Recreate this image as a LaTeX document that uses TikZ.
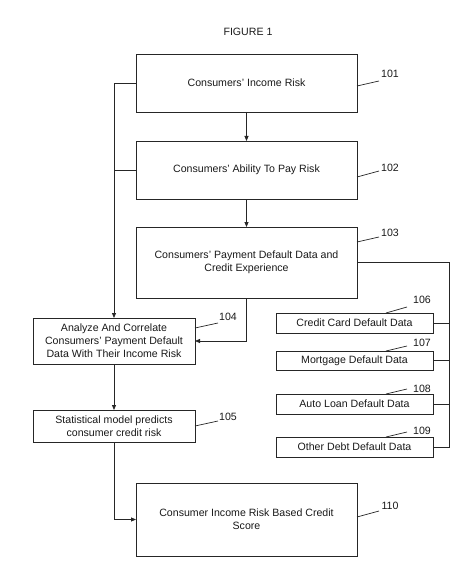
\documentclass[tikz,border=0pt]{standalone}
\usepackage{fontspec}
\setmainfont{Liberation Sans}
\usetikzlibrary{arrows.meta}
\begin{document}
\begin{tikzpicture}[x=1pt,y=-1pt,
  every node/.style={font=\fontsize{10.6}{12.8}\selectfont, text=black!90},
  box/.style={draw=black!85, line width=0.8pt, rectangle, inner sep=0pt, outer sep=0pt, align=center},
  conn/.style={draw=black!85, line width=0.8pt},
  arr/.style={conn, -{Triangle[length=5pt,width=4pt]}},
  lead/.style={draw=black!85, line width=0.7pt},
  lbl/.style={inner sep=0pt}]
\useasboundingbox (0,0) rectangle (474,585);
\node[lbl] (fig) at (248,32) {FIGURE 1};
\node[box, minimum width=221, minimum height=58] (b101) at (246.5,83) {Consumers’ Income Risk};
\node[box, minimum width=221, minimum height=58] (b102) at (246.5,170) {Consumers’ Ability To Pay Risk};
\node[box, minimum width=221, minimum height=71] (b103) at (246.5,262.5) {Consumers’ Payment Default Data and\\Credit Experience};
\node[box, minimum width=162, minimum height=46] (b104) at (114,341) {Analyze And Correlate\\Consumers’ Payment Default\\Data With Their Income Risk};
\node[box, minimum width=162, minimum height=32] (b105) at (114,426) {Statistical model predicts\\consumer credit risk};
\node[box, minimum width=221, minimum height=73] (b110) at (246.5,519.5) {Consumer Income Risk Based Credit\\Score};
\node[box, minimum width=157, minimum height=20] (b106) at (354.5,323) {Credit Card Default Data};
\node[box, minimum width=157, minimum height=19] (b107) at (354.5,360.5) {Mortgage Default Data};
\node[box, minimum width=157, minimum height=20] (b108) at (354.5,404) {Auto Loan Default Data};
\node[box, minimum width=157, minimum height=20] (b109) at (354.5,447) {Other Debt Default Data};

% connectors
\draw[arr] (b101.south) -- (b102.north);
\draw[arr] (b102.south) -- (b103.north);
\draw[arr] (b101.west) -- (b104.north |- b101.west) -- (b104.north);
\draw[conn] (b102.west) -- (b104.north |- b102.west);
\draw[arr] (b103.south) |- (b104.east);
\draw[arr] (b104.south) -- (b105.north);
\draw[arr] (b105.south) |- (b110.west);
\coordinate (busTop) at (449,262);
\draw[conn] (b103.east |- busTop) -- (busTop) -- (busTop |- b109.east) -- (b109.east);
\draw[conn] (b106.east) -- (busTop |- b106.east);
\draw[conn] (b107.east) -- (busTop |- b107.east);
\draw[conn] (b108.east) -- (busTop |- b108.east);

% reference labels
\node[lbl] (l101) at (390,74) {101};
\node[lbl] (l102) at (390,168) {102};
\node[lbl] (l103) at (390,233) {103};
\node[lbl] (l104) at (228,317) {104};
\node[lbl] (l105) at (228,417) {105};
\node[lbl] (l110) at (390,506) {110};
\node[lbl] (l106) at (422,300) {106};
\node[lbl] (l107) at (422,343) {107};
\node[lbl] (l108) at (422,389) {108};
\node[lbl] (l109) at (422,431) {109};
\coordinate (e101) at (379,81);
\coordinate (e102) at (379,171);
\coordinate (e103) at (379,237);
\coordinate (e104) at (218,323);
\coordinate (e105) at (218,421);
\coordinate (e110) at (379,511);
\draw[lead] (357,86) -- (e101);
\draw[lead] (357,177) -- (e102);
\draw[lead] (357,242) -- (e103);
\draw[lead] (195,328) -- (e104);
\draw[lead] (195,426) -- (e105);
\draw[lead] (357,517) -- (e110);
\draw[lead] (386,313) -- (407,307);
\draw[lead] (386,351) -- (407,346);
\draw[lead] (386,394) -- (407,389);
\draw[lead] (386,437) -- (407,432);
\end{tikzpicture}
\end{document}
